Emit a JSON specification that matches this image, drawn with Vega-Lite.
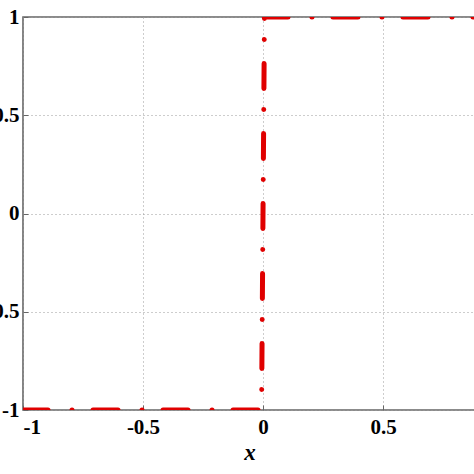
{
  "$schema": "https://vega.github.io/schema/vega-lite/v6.json",
  "width": 453,
  "height": 393,
  "autosize": {"type": "none"},
  "padding": {"left": 23, "top": 17, "right": 0, "bottom": 64},
  "config": {
    "font": "Liberation Serif",
    "view": {"stroke": "#666666", "strokeWidth": 1.6},
    "axis": {
      "domain": false,
      "grid": true,
      "gridColor": "#9a9a9a",
      "gridDash": [1, 3],
      "gridWidth": 1,
      "tickSize": -5,
      "tickColor": "#666666",
      "labelFont": "Liberation Serif",
      "labelFontSize": 21,
      "labelFontWeight": "bold",
      "labelColor": "black",
      "labelExpr": "toString(datum.value)"
    }
  },
  "data": {
    "values": [
      {"x": -1, "y": -1},
      {"x": -0.006, "y": -1},
      {"x": 0.006, "y": 1},
      {"x": 1, "y": 1}
    ]
  },
  "mark": {
    "type": "line",
    "color": "#e00000",
    "strokeWidth": 5,
    "strokeCap": "round",
    "strokeDash": [25, 24, 0.01, 21],
    "clip": true
  },
  "encoding": {
    "x": {
      "field": "x",
      "type": "quantitative",
      "scale": {"domain": [-1, 0.8875], "nice": false, "zero": false},
      "axis": {
        "values": [-1, -0.5, 0, 0.5],
        "labelPadding": 11,
        "title": "x",
        "titleFont": "Liberation Serif",
        "titleFontSize": 23,
        "titleFontStyle": "italic",
        "titleFontWeight": "bold",
        "titleColor": "black",
        "titlePadding": 4
      }
    },
    "y": {
      "field": "y",
      "type": "quantitative",
      "scale": {"domain": [-1, 1], "nice": false, "zero": false},
      "axis": {
        "values": [-1, -0.5, 0, 0.5, 1],
        "labelPadding": 9,
        "title": null
      }
    }
  }
}
